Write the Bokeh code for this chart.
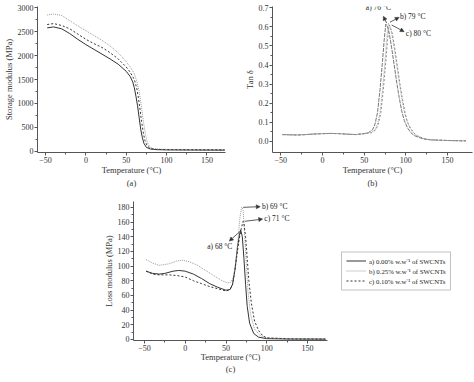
from bokeh.plotting import figure
from bokeh.layouts import column, row
from bokeh.models import (Range1d, FixedTicker, Legend, LegendItem, Arrow,
                          NormalHead, Label, Spacer, PrintfTickFormatter)
from bokeh.embed import file_html
from bokeh.resources import INLINE

FONT = "Liberation Serif"

# ---------------- data ----------------
# (a) Storage modulus (MPa)
sa_x = [-48, -40, -30, -20, -10, 0, 10, 20, 30, 40, 50, 55, 58, 60, 62, 64, 66, 68, 70, 72, 75, 80, 88, 100, 130, 172]
sa_y = [2580, 2600, 2560, 2460, 2340, 2230, 2130, 2030, 1930, 1820, 1670, 1560, 1450, 1330, 1150, 950, 700, 450, 280, 160, 80, 45, 32, 28, 25, 22]
sb_x = [-48, -40, -30, -20, -10, 0, 10, 20, 30, 40, 50, 55, 60, 63, 66, 68, 70, 72, 74, 76, 79, 84, 100, 130, 172]
sb_y = [2850, 2870, 2840, 2730, 2620, 2520, 2420, 2320, 2200, 2060, 1870, 1760, 1620, 1470, 1250, 1030, 780, 540, 340, 190, 90, 50, 38, 36, 35]
sc_x = [-48, -40, -30, -20, -10, 0, 10, 20, 30, 40, 50, 55, 60, 63, 65, 67, 69, 71, 73, 76, 80, 87, 100, 130, 172]
sc_y = [2650, 2670, 2630, 2560, 2450, 2340, 2250, 2170, 2060, 1930, 1760, 1650, 1500, 1320, 1120, 880, 620, 400, 230, 110, 55, 38, 32, 30, 28]

# (b) Tan delta
ta_x = [-48, -40, -30, -20, -10, 0, 10, 20, 30, 40, 50, 55, 60, 63, 66, 69, 72, 74, 76, 78, 80, 83, 86, 89, 92, 95, 98, 102, 106, 110, 120, 130, 150, 172]
ta_y = [0.035, 0.034, 0.033, 0.035, 0.038, 0.040, 0.041, 0.040, 0.037, 0.035, 0.040, 0.045, 0.060, 0.090, 0.15, 0.27, 0.42, 0.53, 0.615, 0.60, 0.57, 0.49, 0.40, 0.31, 0.23, 0.16, 0.11, 0.07, 0.045, 0.03, 0.013, 0.007, 0.004, 0.002]
tb_x = [-48, -40, -30, -20, -10, 0, 10, 20, 30, 40, 50, 58, 63, 66, 69, 72, 75, 77, 79, 81, 83, 86, 89, 92, 95, 98, 101, 105, 109, 113, 122, 132, 150, 172]
tb_y = [0.035, 0.034, 0.033, 0.035, 0.038, 0.040, 0.041, 0.040, 0.037, 0.035, 0.040, 0.045, 0.060, 0.090, 0.15, 0.27, 0.42, 0.53, 0.62, 0.60, 0.57, 0.49, 0.40, 0.31, 0.23, 0.16, 0.11, 0.07, 0.045, 0.03, 0.013, 0.007, 0.004, 0.002]
tc_x = [-48, -40, -30, -20, -10, 0, 10, 20, 30, 40, 50, 59, 64, 67, 70, 73, 76, 78, 80, 82, 84, 87, 90, 93, 96, 99, 102, 106, 110, 114, 123, 133, 150, 172]
tc_y = [0.035, 0.034, 0.033, 0.035, 0.038, 0.040, 0.041, 0.040, 0.037, 0.035, 0.040, 0.045, 0.060, 0.090, 0.15, 0.27, 0.42, 0.53, 0.61, 0.59, 0.56, 0.48, 0.39, 0.30, 0.22, 0.15, 0.10, 0.065, 0.042, 0.028, 0.012, 0.007, 0.004, 0.002]

# (c) Loss modulus (MPa)
la_x = [-48, -40, -32, -25, -15, -8, 0, 10, 20, 30, 40, 50, 55, 58, 61, 64, 66, 68, 70, 72, 74, 76, 79, 84, 90, 100, 130, 172]
la_y = [93, 90, 89, 90, 93, 94, 93, 89, 83, 76, 71, 67, 68, 75, 95, 125, 140, 149, 140, 110, 75, 45, 22, 8, 3, 1, 0.5, 0.3]
lb_x = [-48, -40, -32, -20, -10, -4, 5, 15, 25, 35, 45, 52, 56, 59, 62, 65, 67, 69, 70, 71, 73, 75, 77, 80, 85, 92, 100, 130, 172]
lb_y = [109, 104, 101, 103, 107, 108, 106, 101, 94, 87, 80, 77, 78, 85, 105, 140, 165, 180, 180, 176, 140, 100, 65, 35, 14, 5, 2, 1, 0.5]
lc_x = [-48, -40, -32, -20, -10, 0, 10, 20, 30, 40, 50, 55, 58, 61, 64, 66, 68, 70, 71, 72, 74, 76, 78, 81, 85, 90, 95, 100, 130, 172]
lc_y = [93, 89, 88, 88, 87, 85, 80, 76, 72, 69, 66, 68, 75, 95, 120, 135, 148, 157, 161, 158, 140, 110, 80, 50, 25, 12, 5, 2, 0.7, 0.5]

x_ticks = [-50, 0, 50, 100, 150]
sa_ticks = [0, 500, 1000, 1500, 2000, 2500, 3000]
tan_ticks = [0.0, 0.1, 0.2, 0.3, 0.4, 0.5, 0.6, 0.7]
loss_ticks = [0, 20, 40, 60, 80, 100, 120, 140, 160, 180]

series_labels = ["a) 0.00% w.w\u207b\u00b9 of SWCNTs",
                 "b) 0.25% w.w\u207b\u00b9 of SWCNTs",
                 "c) 0.10% w.w\u207b\u00b9 of SWCNTs"]

# ---------------- styles ----------------
STY_A = dict(line_color="#333333", line_width=1.0)
STY_B = dict(line_color="#9a9a9a", line_width=1.0, line_dash="1 1")
STY_C = dict(line_color="#333333", line_width=1.0, line_dash="2 2")
STY_A2 = dict(line_color="#777777", line_width=1.0, line_dash="4 1")
STY_B2 = dict(line_color="#aaaaaa", line_width=1.0, line_dash="1 1")
STY_C2 = dict(line_color="#888888", line_width=1.0, line_dash="2 2")


def mids(t):
    return [(t[i] + t[i + 1]) / 2 for i in range(len(t) - 1)]


def make_fig(size, xr, yr, bl, br, bt, bb, frame=False):
    kw = dict(frame_width=size[0], frame_height=size[1]) if frame else dict(width=size[0], height=size[1])
    p = figure(x_range=Range1d(*xr), y_range=Range1d(*yr),
               output_backend="svg", toolbar_location=None,
               min_border_left=bl, min_border_right=br,
               min_border_top=bt, min_border_bottom=bb, **kw)
    p.outline_line_color = None
    p.grid.visible = False
    return p


def style_axes(p, xlabel, ylabel, yticks, yfmt):
    p.xaxis.ticker = FixedTicker(ticks=x_ticks, minor_ticks=mids(x_ticks))
    p.yaxis.ticker = FixedTicker(ticks=yticks, minor_ticks=mids(yticks))
    if yfmt:
        p.yaxis.formatter = PrintfTickFormatter(format=yfmt)
    p.xaxis.axis_label = xlabel
    p.yaxis.axis_label = ylabel
    for ax in p.axis:
        ax.axis_line_color = "#555555"
        ax.major_tick_line_color = "#555555"
        ax.minor_tick_line_color = "#555555"
        ax.major_tick_out = 3
        ax.major_tick_in = 0
        ax.minor_tick_out = 2
        ax.minor_tick_in = 0
        ax.major_label_text_font = FONT
        ax.major_label_text_font_size = "8px"
        ax.major_label_text_color = "#333333"
        ax.major_label_standoff = 1
        ax.axis_label_text_font = FONT
        ax.axis_label_text_font_size = "8.5px"
        ax.axis_label_text_font_style = "normal"
        ax.axis_label_text_color = "#333333"
        ax.axis_label_standoff = 1
    p.xaxis.axis_label_text_line_height = 1.3
    p.xaxis.axis_label_standoff = -1


def annotate(p, text, x0, y0, x1, y1, tx, ty):
    p.add_layout(Arrow(end=NormalHead(size=4, fill_color="#333333", line_color="#333333", line_width=0.5),
                       x_start=x0, y_start=y0, x_end=x1, y_end=y1,
                       line_color="#333333", line_width=0.8))
    p.add_layout(Label(x=tx, y=ty, text=text, text_font=FONT, text_font_size="7.5px",
                       text_color="#222222", text_baseline="middle"))


# ---------------- panel (a) ----------------
pa = make_fig((240, 192), (-60, 173), (-27, 3027), 32, 15, 6, 40)
pa.line(sa_x, sa_y, **STY_A)
pa.line(sb_x, sb_y, **STY_B)
pa.line(sc_x, sc_y, **STY_C)
style_axes(pa, "Temperature (\u00b0C)\n(a)", "Storage modulus (MPa)", sa_ticks, None)

# ---------------- panel (b) ----------------
pb = make_fig((234, 192), (-60, 180), (-0.059, 0.707), 32, 2, 6, 40)
pb.line(ta_x, ta_y, **STY_A2)
pb.line(tb_x, tb_y, **STY_B2)
pb.line(tc_x, tc_y, **STY_C2)
style_axes(pb, "Temperature (\u00b0C)\n(b)", "Tan \u03b4", tan_ticks, "%.1f")
annotate(pb, "a) 76 \u00b0C", 77, 0.62, 73, 0.656, 52, 0.701)
annotate(pb, "b) 79 \u00b0C", 81, 0.625, 92, 0.65, 93, 0.652)
annotate(pb, "c) 80 \u00b0C", 83, 0.61, 98, 0.575, 100, 0.565)

# ---------------- panel (c) ----------------
pc = make_fig((194, 139), (-63.5, 174.5), (-1.5, 188), 32, 146, 9, 38, frame=True)
ra = pc.line(la_x, la_y, **STY_A)
rb = pc.line(lb_x, lb_y, **STY_B)
rc = pc.line(lc_x, lc_y, **STY_C)
style_axes(pc, "Temperature (\u00b0C)\n(c)", "Loss modulus (MPa)", loss_ticks, None)
pc.xaxis.axis_label_text_line_height = 1.2
pc.xaxis.axis_label_standoff = -2
annotate(pc, "b) 69 \u00b0C", 71, 180, 92, 181, 94, 181)
annotate(pc, "c) 71 \u00b0C", 73, 161, 95, 164, 97, 165)
annotate(pc, "a) 68 \u00b0C", 68, 148, 54, 134, 27, 127)

legend = Legend(items=[LegendItem(label=series_labels[0], renderers=[ra]),
                       LegendItem(label=series_labels[1], renderers=[rb]),
                       LegendItem(label=series_labels[2], renderers=[rc])],
                location="center_left")
legend.label_text_font = FONT
legend.label_text_font_size = "6.8px"
legend.label_text_color = "#222222"
legend.glyph_width = 20
legend.glyph_height = 8
legend.label_height = 9
legend.label_standoff = 3
legend.spacing = 1
legend.padding = 4
legend.margin = 14
legend.border_line_color = "#888888"
legend.border_line_width = 1
legend.background_fill_alpha = 1
pc.add_layout(legend, "right")

layout = column(row(pa, pb), row(Spacer(width=100, height=10), pc))

open("out.html", "w").write(file_html(layout, INLINE))
